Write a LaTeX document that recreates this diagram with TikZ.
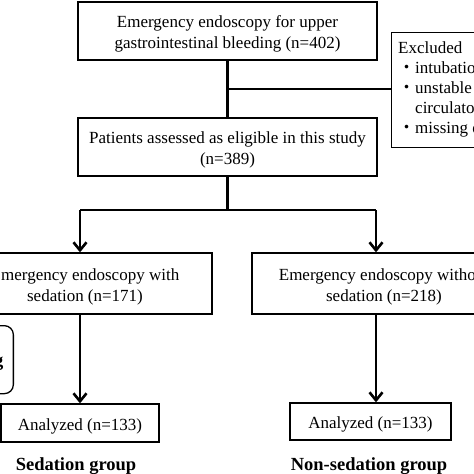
\documentclass[tikz,border=0pt]{standalone}
\usepackage{fontspec}
\setmainfont{Liberation Serif}
\newfontfamily\cjk{Noto Sans CJK JP}
\usetikzlibrary{arrows.meta}
\begin{document}
\begin{tikzpicture}[x=1pt,y=-1pt,
  box/.style={draw,line width=1.3pt,inner sep=0pt},
  boxtext/.style={inner sep=0pt,align=center,yshift=-3pt,font=\fontsize{17}{21}\selectfont},
  conn/.style={line width=2.6pt},
  arr/.style={line width=2.6pt,-{Straight Barb[length=8pt,width=13pt,line width=2.6pt]}},
  lbl/.style={inner sep=0pt,font=\fontsize{18.5}{22}\selectfont\bfseries}
]
\useasboundingbox (0,0) rectangle (474,474);
\clip (0,0) rectangle (474,474);
\fill[white] (0,0) rectangle (474,474);
% boxes
\node[box,minimum width=299pt,minimum height=58pt,label={[boxtext]center:{Emergency endoscopy for upper\\gastrointestinal bleeding (n=402)}}] (b1) at (227.5,31) {};
\node[box,minimum width=299pt,minimum height=58pt,label={[boxtext]center:{Patients assessed as eligible in this study\\(n=389)}}] (b2) at (227.5,147) {};
\node[box,minimum width=180pt,minimum height=115pt,anchor=north west] (ex) at (391,32) {};
\node[inner sep=0pt,anchor=north west,align=left,font=\fontsize{17}{20}\selectfont] (ext) at (398,42)
  {Excluded\\{\cjk ・}intubation\\{\cjk ・}unstable\\\hspace*{17pt}circulatory\\{\cjk ・}missing data};
\node[box,minimum width=254pt,minimum height=61pt,label={[boxtext]center:{Emergency endoscopy with\\sedation (n=171)}}] (b3l) at (85,283.5) {};
\node[box,minimum width=264pt,minimum height=61pt,label={[boxtext]center:{Emergency endoscopy without\\sedation (n=218)}}] (b3r) at (384,283.5) {};
\node[box,minimum width=158pt,minimum height=38pt,label={[boxtext]center:{Analyzed (n=133)}}] (al) at (80,423) {};
\node[box,minimum width=161pt,minimum height=37pt,label={[boxtext]center:{Analyzed (n=133)}}] (ar) at (370.5,421.5) {};
\node[draw,line width=1.3pt,rounded corners=9pt,minimum width=150pt,minimum height=68pt,anchor=north east,inner sep=0pt] (rb) at (14,325) {};
\node[lbl,anchor=base east] (rbt) at (3.5,366) {g};
\node[lbl,anchor=base] (sg) at (76,470) {Sedation group};
\node[lbl,anchor=base] (ng) at (369,470) {Non-sedation group};
% connectors
\coordinate (m1) at (227.5,89);
\coordinate (j) at (227.5,210);
\coordinate (jl) at (80,210);
\coordinate (jr) at (376,210);
\draw[conn] (b1.south) -- (b2.north);
\draw[conn] (m1) -- (m1 -| ex.west);
\draw[conn] (b2.south) -- (j);
\draw[conn] (jl) -- (jr);
\draw[arr] (jl) -- (jl |- b3l.north);
\draw[arr] (jr) -- (jr |- b3r.north);
\coordinate (dl) at (b3l.south -| jl);
\coordinate (dr) at (b3r.south -| jr);
\draw[arr] (dl) -- (dl |- al.north);
\draw[arr] (dr) -- (dr |- ar.north);
\end{tikzpicture}
\end{document}
